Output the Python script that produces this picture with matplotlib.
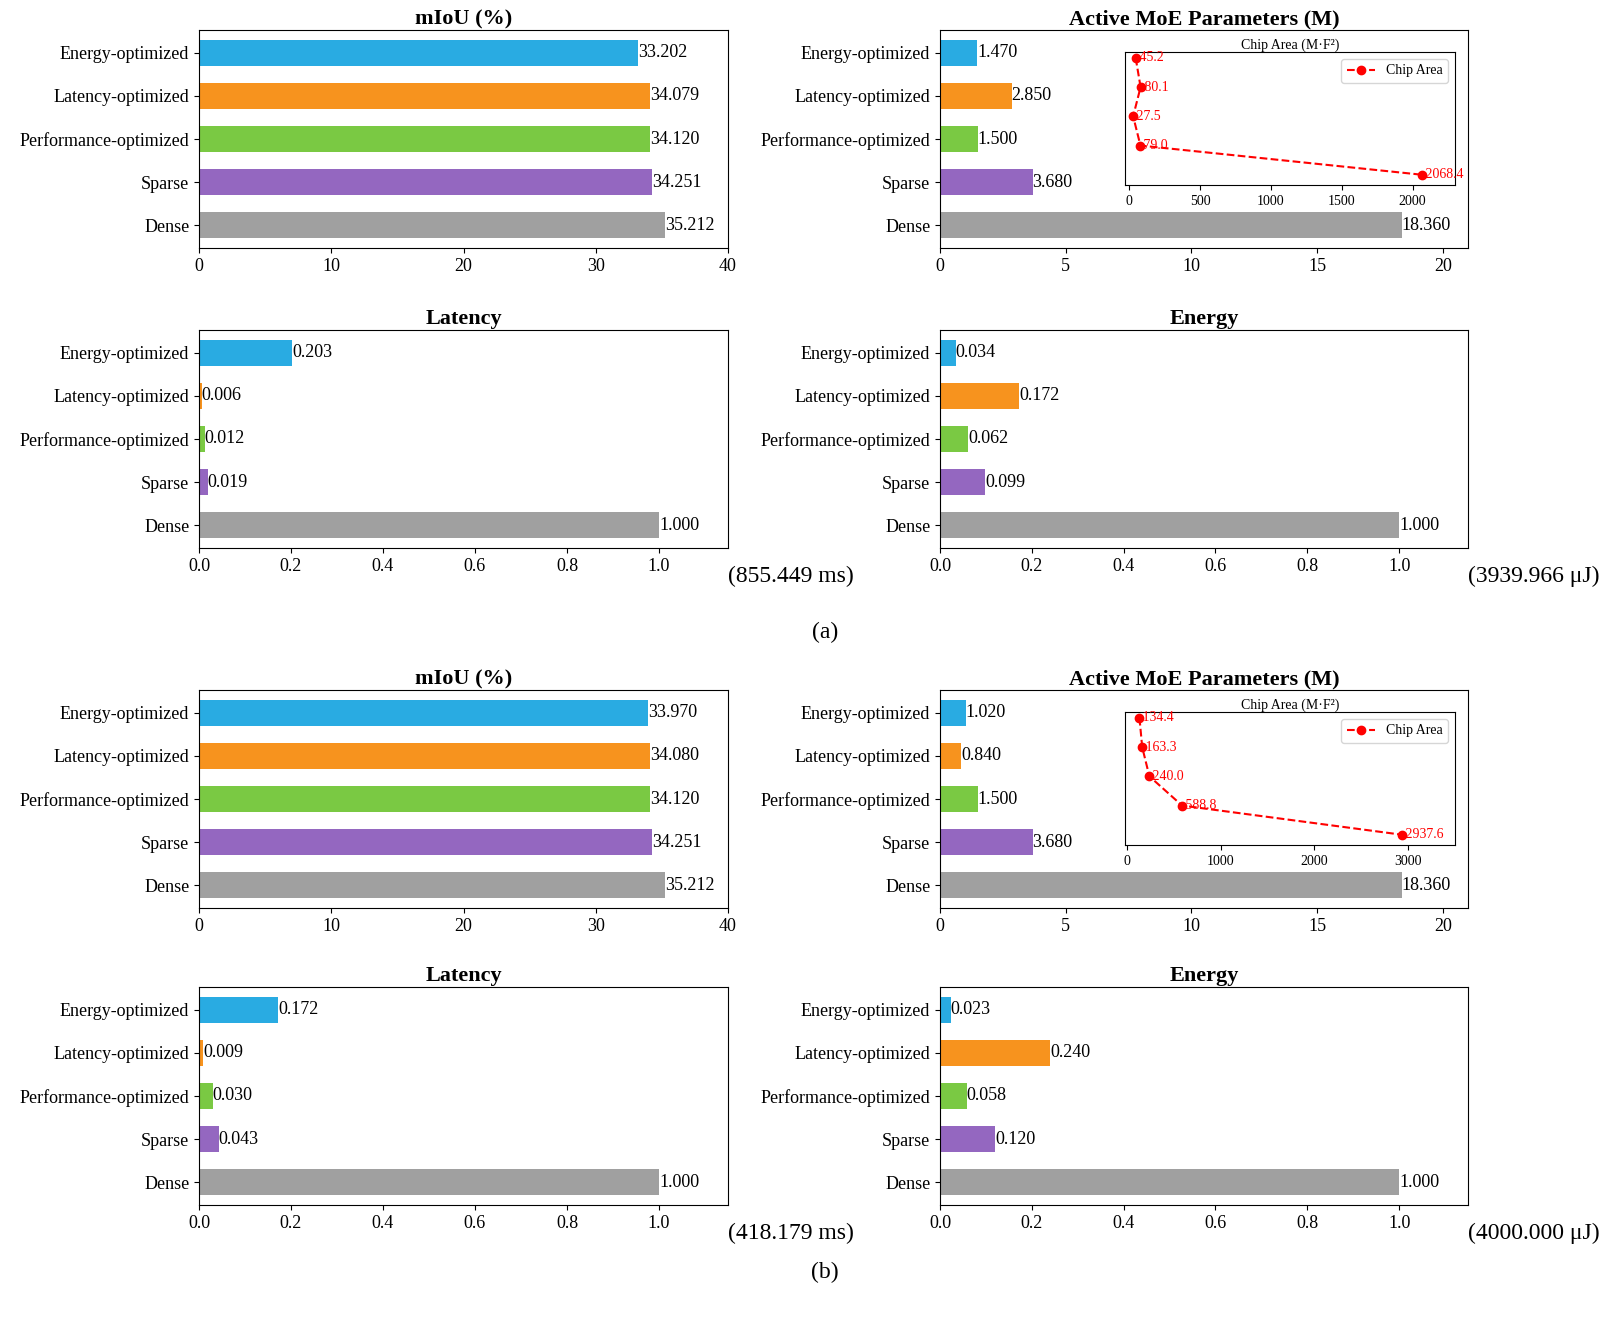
import matplotlib
matplotlib.use("Agg")
import matplotlib.pyplot as plt

plt.rcParams['font.family'] = ['Liberation Serif', 'DejaVu Serif']
plt.rcParams['mathtext.fontset'] = 'stix'

categories = ["Energy-optimized", "Latency-optimized", "Performance-optimized", "Sparse", "Dense"]
colors = ["#29ABE2", "#F7931E", "#7AC943", "#9467C0", "#A0A0A0"]

miou_a = [33.202, 34.079, 34.120, 34.251, 35.212]
params_a = [1.470, 2.850, 1.500, 3.680, 18.360]
latency_a = [0.203, 0.006, 0.012, 0.019, 1.000]
energy_a = [0.034, 0.172, 0.062, 0.099, 1.000]
area_a = [45.2, 80.1, 27.5, 79.0, 2068.4]
lat_ref_a = "(855.449 ms)"
en_ref_a = "(3939.966 μJ)"

miou_b = [33.970, 34.080, 34.120, 34.251, 35.212]
params_b = [1.020, 0.840, 1.500, 3.680, 18.360]
latency_b = [0.172, 0.009, 0.030, 0.043, 1.000]
energy_b = [0.023, 0.240, 0.058, 0.120, 1.000]
area_b = [134.4, 163.3, 240.0, 588.8, 2937.6]
lat_ref_b = "(418.179 ms)"
en_ref_b = "(4000.000 μJ)"

W, H = 1600, 1318
fig = plt.figure(figsize=(16, 13.18), dpi=100)

def ax_at(x0, y0, x1, y1):
    return fig.add_axes([x0 / W, 1 - y1 / H, (x1 - x0) / W, (y1 - y0) / H])

def bars(ax, vals, title, xlim, xticks, ref=None):
    y = list(range(len(categories)))
    ax.barh(y, vals, height=0.6, color=colors)
    ax.set_yticks(y)
    ax.set_yticklabels(categories, fontsize=13)
    ax.invert_yaxis()
    ax.set_xlim(*xlim)
    ax.set_xticks(xticks)
    ax.tick_params(labelsize=13)
    ax.set_title(title, fontsize=16, fontweight='bold', pad=4)
    for yi, v in zip(y, vals):
        ax.text(v, yi, f"{v:.3f}", va='center', ha='left', fontsize=13)
    if ref:
        ax.text(1.0, -0.13, ref, transform=ax.transAxes, fontsize=17, va='center', ha='left')

def inset(box, vals, xlim, xticks):
    ax = ax_at(*box)
    y = list(range(len(vals)))
    ax.plot(vals, y, 'r--o', markersize=6, label='Chip Area')
    ax.invert_yaxis()
    ax.set_ylim(4.35, -0.2)
    ax.set_xlim(*xlim)
    ax.set_xticks(xticks)
    ax.set_yticks([])
    ax.tick_params(labelsize=10)
    ax.set_title("Chip Area (M·F²)", fontsize=10, pad=2)
    for v, yi in zip(vals, y):
        ax.text(v, yi, f" {v:.1f}", color='red', va='center', ha='left', fontsize=10)
    ax.legend(loc='upper right', fontsize=10)

lx0, lx1, rx0, rx1 = 199, 728, 940, 1468
for (ytop, data) in [(0, (miou_a, params_a, latency_a, energy_a, area_a, lat_ref_a, en_ref_a, (-30, 2300), [0, 500, 1000, 1500, 2000])),
                     (660, (miou_b, params_b, latency_b, energy_b, area_b, lat_ref_b, en_ref_b, (-20, 3500), [0, 1000, 2000, 3000]))]:
    miou, params, lat, en, area, lr, er, ixl, ixt = data
    r2 = 330 + ytop if ytop == 0 else 987
    r2b = 548 if ytop == 0 else 1205
    bars(ax_at(lx0, 30 + ytop, lx1, 248 + ytop), miou, "mIoU (%)", (0, 40), [0, 10, 20, 30, 40])
    bars(ax_at(rx0, 30 + ytop, rx1, 248 + ytop), params, "Active MoE Parameters (M)", (0, 21), [0, 5, 10, 15, 20])
    bars(ax_at(lx0, r2, lx1, r2b), lat, "Latency", (0, 1.15), [0, 0.2, 0.4, 0.6, 0.8, 1.0], lr)
    bars(ax_at(rx0, r2, rx1, r2b), en, "Energy", (0, 1.15), [0, 0.2, 0.4, 0.6, 0.8, 1.0], er)
    inset((1125, 52 + ytop, 1455, 185 + ytop), area, ixl, ixt)

fig.text(825 / W, 1 - 632 / H, "(a)", ha='center', va='center', fontsize=17)
fig.text(825 / W, 1 - 1272 / H, "(b)", ha='center', va='center', fontsize=17)

fig.savefig("out.png", dpi=100)
